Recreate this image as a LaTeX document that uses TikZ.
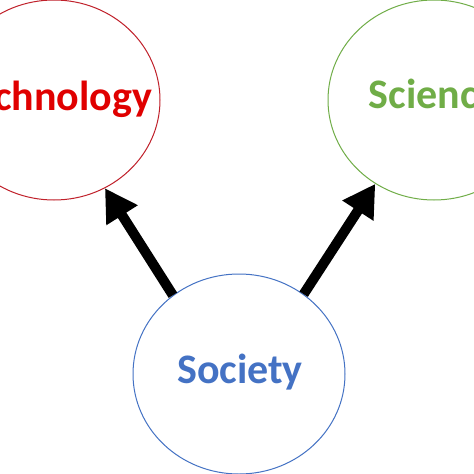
\documentclass[tikz,border=0pt]{standalone}
\usepackage{fontspec}
\setmainfont{Carlito}
\usetikzlibrary{shapes.geometric,arrows.meta}
\definecolor{techred}{HTML}{E00000}
\definecolor{techborder}{HTML}{C0202A}
\definecolor{scigreen}{HTML}{70AD47}
\definecolor{socblue}{HTML}{4472C4}
\begin{document}
\begin{tikzpicture}[x=1pt,y=-1pt,
  bubble/.style={ellipse,draw,line width=1pt,minimum width=212pt,minimum height=200pt,inner sep=0pt},
  word/.style={anchor=base,font=\fontsize{42}{50}\selectfont\bfseries,inner sep=0pt},
  bigarrow/.style={line width=10pt,-{Triangle[length=32pt,width=35pt]}}]
\useasboundingbox (0,0) rectangle (474,474);
\fill[white] (0,0) rectangle (474,474);
\node[bubble,draw=techborder] (tech) at (54,100) {};
\node[bubble,draw=scigreen] (sci) at (434,100) {};
\node[bubble,draw=socblue] (soc) at (239,374) {};
\node[word,text=techred] (techtext) at (54,110) {Technology};
\node[word,text=scigreen] (scitext) at (434,108) {Science};
\node[word,text=socblue] (soctext) at (240,383) {Society};
\draw[bigarrow] (soc.130) -- (tech.-60);
\draw[bigarrow] (soc.51) -- (sci.235);
\end{tikzpicture}
\end{document}
